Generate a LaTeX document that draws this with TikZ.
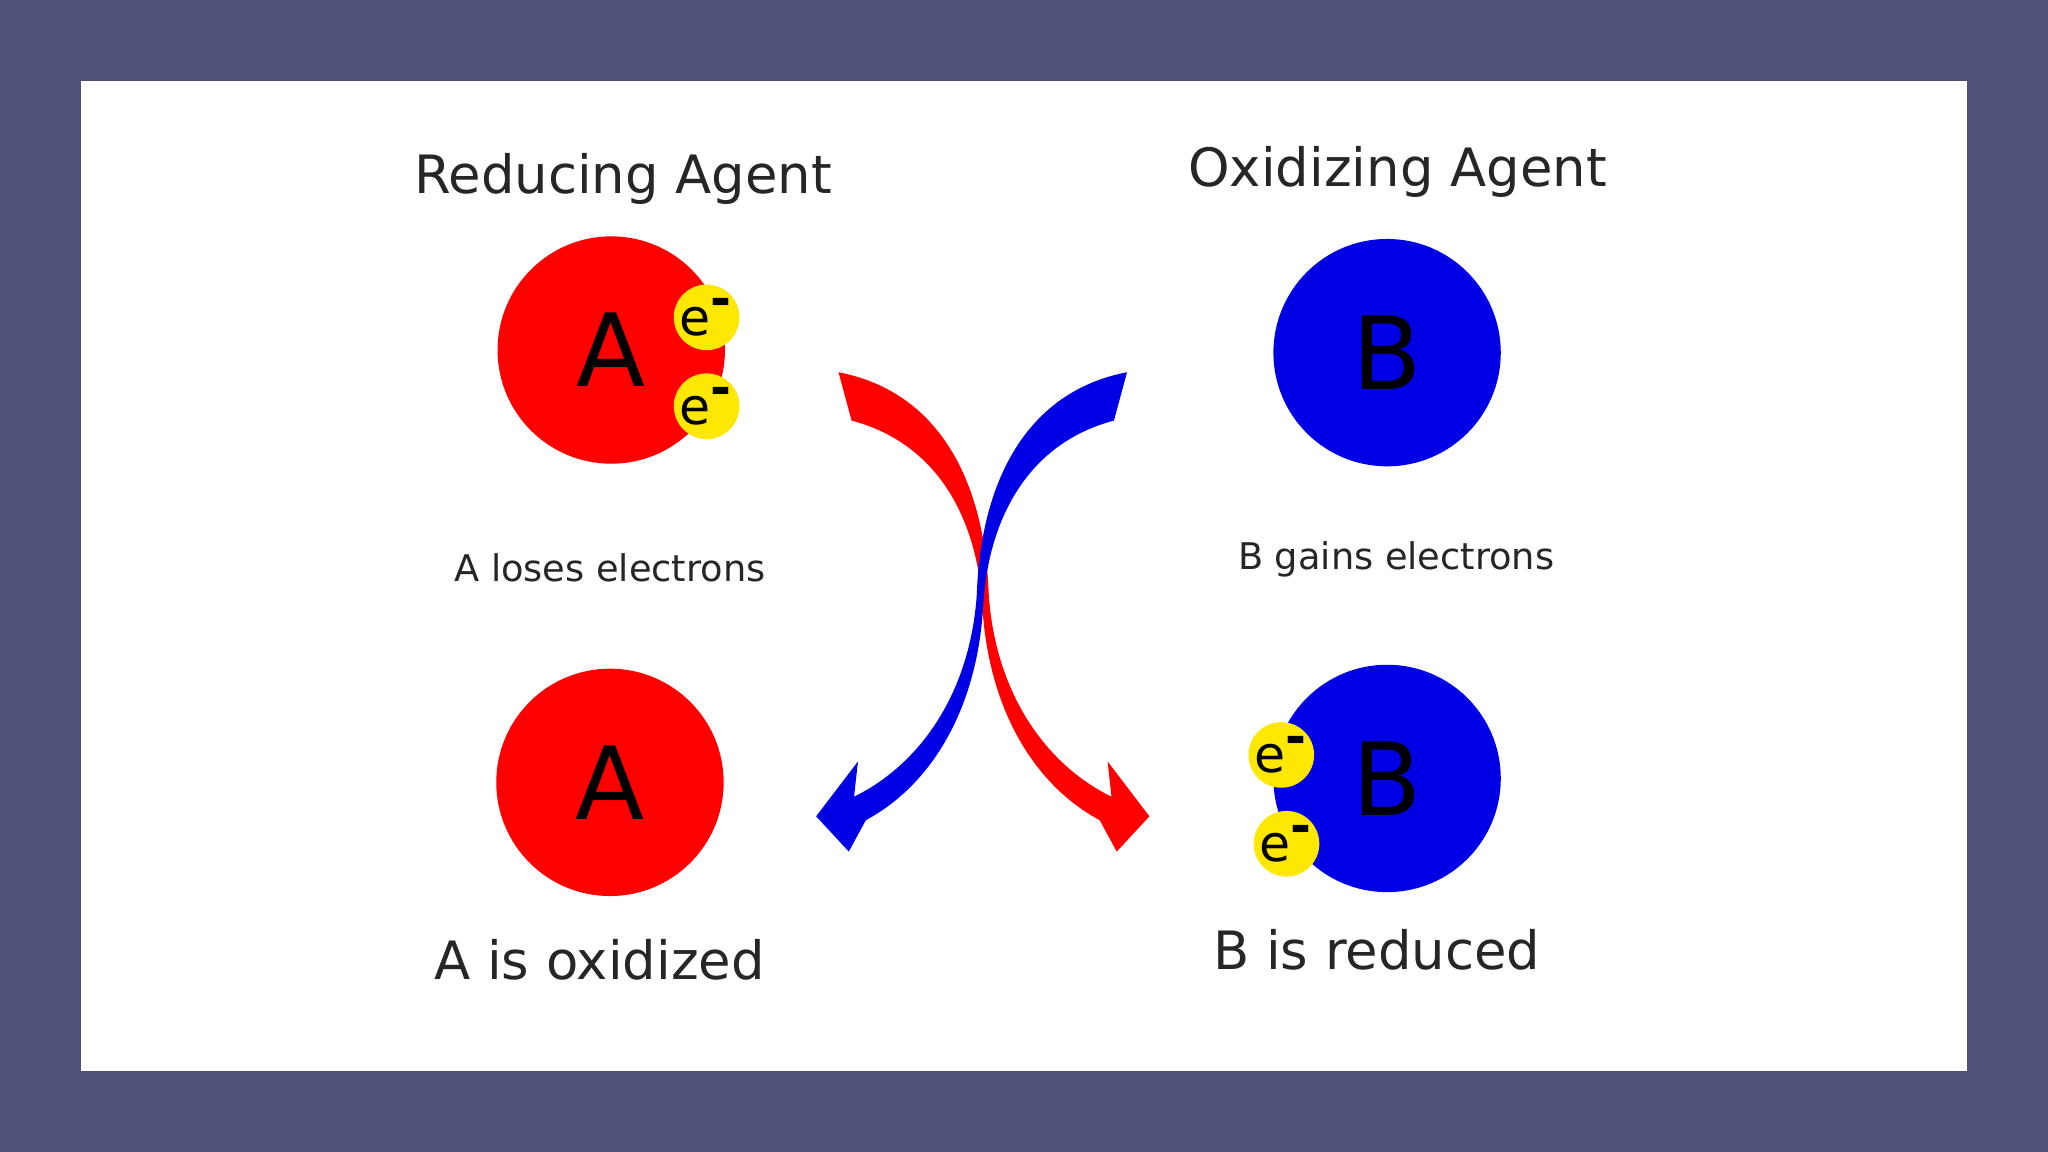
\documentclass[tikz,border=0pt]{standalone}
\usepackage{fontspec}
\setmainfont{DejaVu Sans}
\begin{document}
\begin{tikzpicture}[x=0.01cm,y=-0.01cm,
  lbl/.style={font=\fontsize{11.5pt}{13pt}\selectfont, text=black!85},
  small/.style={font=\fontsize{8pt}{10pt}\selectfont, text=black!85},
  big/.style={font=\fontsize{22pt}{24pt}\selectfont, text=black},
  elec/.style={circle, fill=yellow!90!orange, minimum size=0.48cm, inner sep=0pt, font=\fontsize{11pt}{12pt}\selectfont},
  redball/.style={circle, fill=red, minimum size=1.74cm, inner sep=0pt},
  blueball/.style={circle, fill=blue!90!black, minimum size=1.74cm, inner sep=0pt}]
\fill[fill={rgb,255:red,79;green,82;blue,120}] (0,0) rectangle (1568,882);
\useasboundingbox (0,0) rectangle (1568,882);
\fill[white] (62,62) rectangle (1506,820);
% titles
\node[lbl] (t1) at (477,137) {Reducing Agent};
\node[lbl] (t2) at (1070,132) {Oxidizing Agent};
% top balls
\node[redball,big] (a1) at (468,268) {A};
\node[elec] (e1) at (541,243) {e$^{\textbf{-}}$};
\node[elec] (e2) at (541,311) {e$^{\textbf{-}}$};
\node[blueball,big] (b1) at (1062,270) {B};
\node[small] (l1) at (467,435) {A loses electrons};
\node[small] (l2) at (1069,428) {B gains electrons};
% bottom balls
\node[redball,big] (a2) at (467,599) {A};
\node[blueball,big] (b2) at (1062,596) {B};
\node[elec] (e3) at (981,578) {e$^{\textbf{-}}$};
\node[elec] (e4) at (985,646) {e$^{\textbf{-}}$};
\node[lbl] (l3) at (459,735) {A is oxidized};
\node[lbl] (l4) at (1054,727) {B is reduced};
% arrows
\def\arrowshape{(642,285) .. controls (720,300) and (754,370) .. (757,455)
  .. controls (762,530) and (800,585) .. (851,610) -- (848,583) -- (880,625) -- (855,652) -- (842,628)
  .. controls (790,600) and (756,540) .. (752,462) .. controls (748,400) and (720,340) .. (652,322) -- cycle}
\fill[red] \arrowshape;
\begin{scope}[xshift=15.04cm, xscale=-1]
\fill[blue!90!black] \arrowshape;
\end{scope}
\end{tikzpicture}
\end{document}
